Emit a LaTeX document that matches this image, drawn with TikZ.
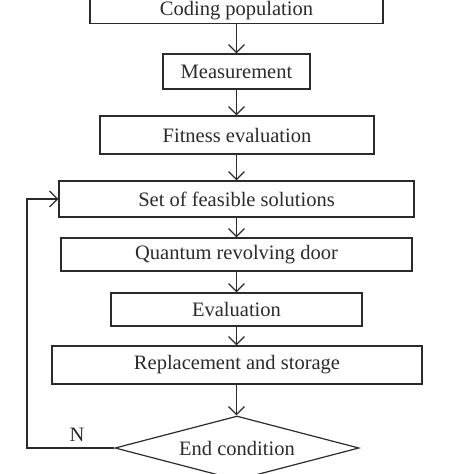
\documentclass[tikz,border=0pt]{standalone}
\usepackage{fontspec}
\setmainfont{Liberation Serif}
\usetikzlibrary{shapes.geometric,arrows.meta}
\definecolor{ink}{HTML}{2B2B2B}
\begin{document}
\begin{tikzpicture}[x=1pt,y=-1pt,
  txt/.style={text=ink,font=\fontsize{20.5}{24}\selectfont},
  boxstyle/.style={txt,draw=ink,line width=1.2pt,rectangle,inner sep=0pt},
  decstyle/.style={txt,draw=ink,line width=1.2pt,diamond,aspect=3.8,inner sep=0pt},
  arr/.style={draw=ink,line width=1.2pt,-{Straight Barb[length=8pt,width=16pt,line width=1.2pt]}}]
\useasboundingbox (0,0) rectangle (474,474);
\node[boxstyle,minimum width=293pt,minimum height=38pt] (coding) at (236.5,4.5) {};
\node[txt,anchor=base,inner sep=0pt] (codingtxt) at (236.5,15.5) {Coding population};
\node[boxstyle,minimum width=147pt,minimum height=35pt] (meas) at (236.5,71.5) {Measurement};
\node[boxstyle,minimum width=274pt,minimum height=38pt] (fit) at (237,135) {Fitness evaluation};
\node[boxstyle,minimum width=355pt,minimum height=36pt] (set) at (236.5,199) {Set of feasible solutions};
\node[boxstyle,minimum width=351pt,minimum height=33pt] (qrd) at (236.5,254.5) {Quantum revolving door};
\node[boxstyle,minimum width=251pt,minimum height=33pt] (eval) at (236.5,309.5) {Evaluation};
\node[boxstyle,minimum width=370pt,minimum height=38pt] (rep) at (237,365) {Replacement and storage};
\node[decstyle,minimum width=244pt,minimum height=64pt] (cond) at (237,448) {End condition};
\node[txt] (nlab) at (77,435) {N};
\coordinate (lc) at (27,448);
\draw[arr] (coding.south) -- (meas.north);
\draw[arr] (meas.south) -- (fit.north -| meas.south);
\draw[arr] (fit.south -| meas.south) -- (set.north -| meas.south);
\draw[arr] (set.south -| meas.south) -- (qrd.north -| meas.south);
\draw[arr] (qrd.south) -- (eval.north);
\draw[arr] (eval.south) -- (rep.north -| eval.south);
\draw[arr] (rep.south -| eval.south) -- (cond.north -| eval.south);
\draw[arr] (cond.west) -- (lc) |- (set.west);
\end{tikzpicture}
\end{document}
